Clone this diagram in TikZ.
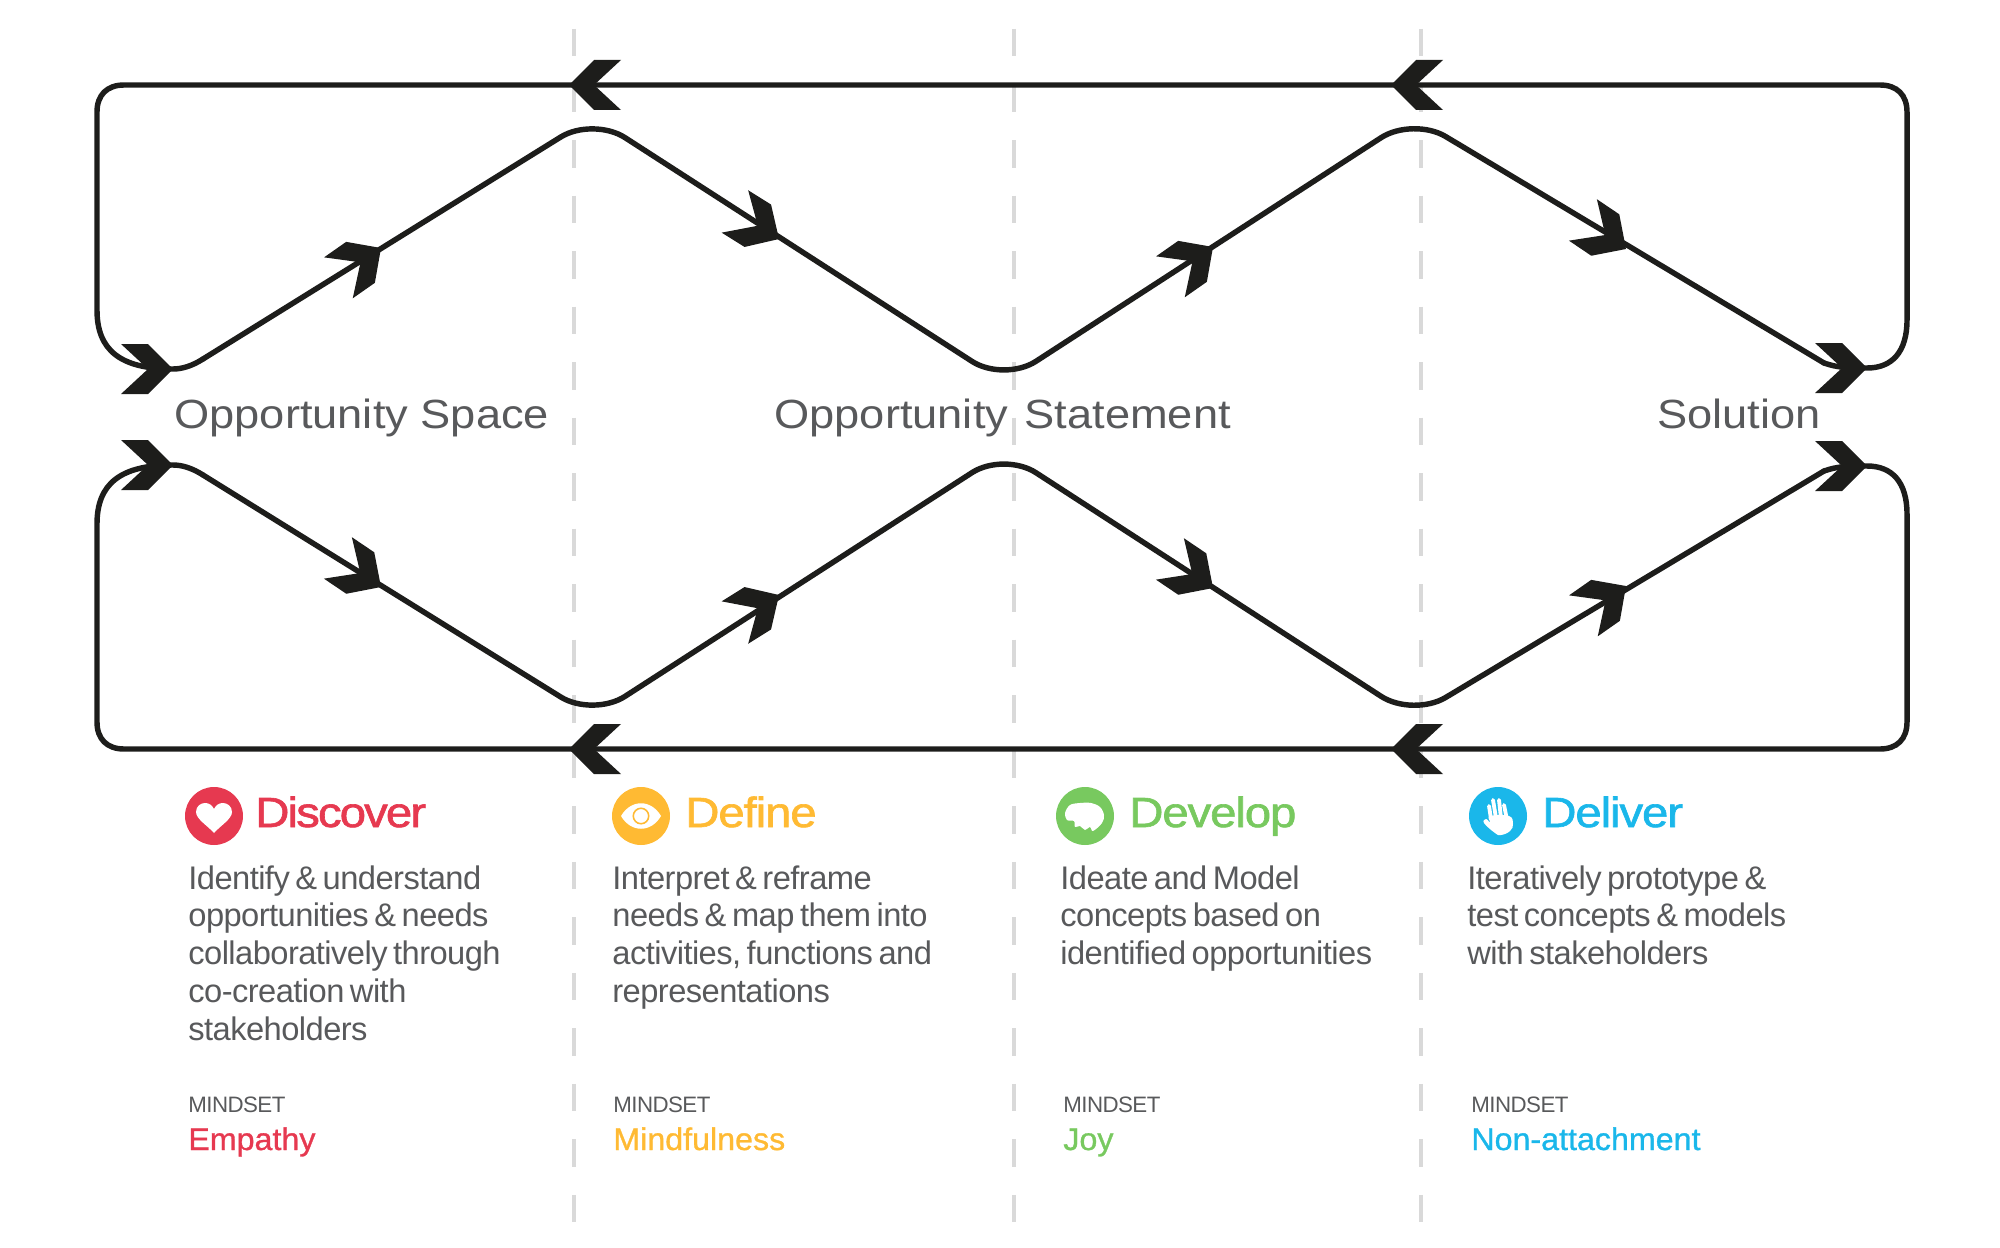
\documentclass[tikz,border=0pt]{standalone}
\usepackage{fontspec}
\setmainfont{Liberation Sans}
\newfontfamily\phasefont[FakeStretch=1.11]{Liberation Sans}
\newfontfamily\bodyfont[LetterSpace=-1.7,WordSpace=0.65]{Liberation Sans}
\newfontfamily\mindsetfont[LetterSpace=-2.5]{Liberation Sans}
\newfontfamily\headfont[LetterSpace=-2.5,FakeStretch=1.12,FakeBold=1.5]{Liberation Sans}
\newfontfamily\tightheadfont[LetterSpace=-4.4,FakeStretch=1.12,FakeBold=1.5]{Liberation Sans}
\newfontfamily\valuefont[FakeStretch=1.03,FakeBold=1]{Liberation Sans}
\definecolor{inkblack}{HTML}{1D1D1B}
\definecolor{dividergray}{HTML}{D9D9D9}
\definecolor{textgray}{HTML}{58595B}
\definecolor{discoverred}{HTML}{E63950}
\definecolor{defineyellow}{HTML}{FFBA33}
\definecolor{developgreen}{HTML}{78C95F}
\definecolor{deliverblue}{HTML}{1AB7EA}
\tikzset{
	flowline/.style={draw=inkblack, line width=3.1pt, line cap=round},
	divider/.style={draw=dividergray, line width=2.7pt, dash pattern=on 15.65pt off 15.95pt},
	chevron/.pic={\fill[inkblack] (0,0) -- (-25,25) -- (-52,25) -- (-25,0) -- (-52,-25) -- (-25,-25) -- cycle;},
	phaselabel/.style={anchor=base west, inner sep=0, text=textgray, font=\phasefont\fontsize{23.2}{26}\selectfont},
	icondisc/.style={shape=circle, minimum size=1.16cm, inner sep=0},
	headlabel/.style={anchor=base west, inner sep=0, font=\headfont\fontsize{24}{28}\selectfont},
	bodylabel/.style={anchor=north west, inner sep=0, align=left, text=textgray, font=\bodyfont\fontsize{18.6}{21.6}\selectfont},
	mindlabel/.style={anchor=base west, inner sep=0, text=textgray, font=\mindsetfont\fontsize{12.7}{15}\selectfont},
	valuelabel/.style={anchor=base west, inner sep=0, font=\valuefont\fontsize{17.8}{20}\selectfont}
}
\begin{document}
\begin{tikzpicture}[x=0.02cm, y=-0.02cm]
	\useasboundingbox (0,0) rectangle (2000,1247);

	\draw[divider] (574,29) coordinate (div_a_top) -- (574,1225) coordinate (div_a_bot);
	\draw[divider] (1014,29) coordinate (div_b_top) -- (1014,1225) coordinate (div_b_bot);
	\draw[divider] (1421,29) coordinate (div_c_top) -- (1421,1225) coordinate (div_c_bot);

	% waypoints of the two waves
	\coordinate (left_up) at (173,369);
	\coordinate (right_up) at (1867,368);
	\coordinate (left_dn) at (173,465);
	\coordinate (right_dn) at (1867,466);
	\coordinate (up_start) at (203,359);
	\coordinate (up_a) at (593,117);
	\coordinate (up_b) at (1004,382);
	\coordinate (up_c) at (1413,117);
	\coordinate (up_end) at (1824,363);
	\coordinate (dn_start) at (203,475);
	\coordinate (dn_a) at (593,717);
	\coordinate (dn_b) at (1004,452);
	\coordinate (dn_c) at (1413,717);
	\coordinate (dn_end) at (1824,471);

	\draw[flowline, rounded corners=0.76cm] (up_start) -- (up_a) -- (up_b) -- (up_c) -- (up_end);
	\draw[flowline, rounded corners=0.76cm] (dn_start) -- (dn_a) -- (dn_b) -- (dn_c) -- (dn_end);
	\draw[flowline] (up_end) .. controls (1838,368) and (1850,368) .. (right_up)
		.. controls (1892,368) and (1907,352) .. (1907,320) -- (1907,112)
		.. controls (1907,95) and (1897,85) .. (1880,85) -- (124,85)
		.. controls (107,85) and (97,95) .. (97,112) -- (97,310)
		.. controls (97,350) and (120,369) .. (left_up)
		.. controls (182,369) and (192,366) .. (up_start);
	\draw[flowline] (dn_end) .. controls (1838,466) and (1850,466) .. (right_dn)
		.. controls (1892,466) and (1907,482) .. (1907,514) -- (1907,722)
		.. controls (1907,739) and (1897,749) .. (1880,749) -- (124,749)
		.. controls (107,749) and (97,739) .. (97,722) -- (97,524)
		.. controls (97,484) and (120,465) .. (left_dn)
		.. controls (182,465) and (192,468) .. (dn_start);

	\pic[rotate=180] at (569,85) {chevron};
	\pic[rotate=180] at (1391,85) {chevron};
	\pic[rotate=180] at (569,749) {chevron};
	\pic[rotate=180] at (1391,749) {chevron};
	\pic at (left_up) {chevron};
	\pic at (right_up) {chevron};
	\pic at (left_dn) {chevron};
	\pic at (right_dn) {chevron};
	\pic[rotate=35] at (381,248) {chevron};
	\pic[rotate=-32] at (779,239) {chevron};
	\pic[rotate=35] at (1213,247) {chevron};
	\pic[rotate=-34] at (1626,249) {chevron};
	\pic[rotate=-34] at (381,587) {chevron};
	\pic[rotate=32] at (779,595) {chevron};
	\pic[rotate=-34] at (1213,588) {chevron};
	\pic[rotate=35] at (1626,586) {chevron};

	\node[phaselabel] (space) at (174,428) {Opportunity Space};
	\node[phaselabel] (statement) at (774,428) {Opportunity\hspace{0.4em}Statement};
	\node[phaselabel] (solution) at (1657,428) {Solution};

	% discover
	\node[icondisc, fill=discoverred] (icon_heart) at (214,816) {};
	\begin{scope}[shift={(icon_heart.center)}]
		\fill[white] (0,17) .. controls (-6,10) and (-18,3) .. (-18,-4) .. controls (-18,-10) and (-13,-13) .. (-9,-13)
			.. controls (-5,-13) and (-2,-11) .. (0,-7) .. controls (2,-11) and (5,-13) .. (9,-13)
			.. controls (13,-13) and (18,-10) .. (18,-4) .. controls (18,3) and (6,10) .. (0,17) -- cycle;
	\end{scope}
	\node[headlabel, text=discoverred, font=\tightheadfont\fontsize{24}{28}\selectfont] (discover) at (255,827) {Discover};
	\node[bodylabel] (discover_text) at (188,865) {Identify \& understand\\opportunities \& needs\\collaboratively through\\co-creation with\\stakeholders};
	\node[mindlabel] (discover_mind) at (188,1112) {MINDSET};
	\node[valuelabel, text=discoverred] (empathy) at (188,1150) {Empathy};

	% define
	\node[icondisc, fill=defineyellow] (icon_eye) at (641,816) {};
	\begin{scope}[shift={(icon_eye.center)}]
		\fill[white] (-20,0) .. controls (-10,-17) and (10,-17) .. (20,0) .. controls (10,17) and (-10,17) .. (-20,0) -- cycle;
		\draw[defineyellow, line width=0.9pt] (0,0) circle[radius=4.4pt];
	\end{scope}
	\node[headlabel, text=defineyellow] (define) at (685,827) {Define};
	\node[bodylabel] (define_text) at (612,865) {Interpret \& reframe\\needs \& map them into\\activities, functions and\\representations};
	\node[mindlabel] (define_mind) at (613,1112) {MINDSET};
	\node[valuelabel, text=defineyellow] (mindfulness) at (613,1150) {Mindfulness};

	% develop
	\node[icondisc, fill=developgreen] (icon_brain) at (1085,816) {};
	\begin{scope}[shift={(icon_brain.center)}]
		\fill[white] plot[smooth cycle, tension=0.55] coordinates {(-20,-3) (-15,-11) (-5,-13) (6,-13) (15,-9) (19,-1) (17,7) (8,15) (5,11) (0,14) (-5,10) (-10,11) (-11,5) (-18,4)};
	\end{scope}
	\node[headlabel, text=developgreen] (develop) at (1129,827) {Develop};
	\node[bodylabel] (develop_text) at (1060,865) {Ideate and Model\\concepts based on\\identified opportunities};
	\node[mindlabel] (develop_mind) at (1063,1112) {MINDSET};
	\node[valuelabel, text=developgreen] (joy) at (1063,1150) {Joy};

	% deliver
	\node[icondisc, fill=deliverblue] (icon_hand) at (1498,816) {};
	\begin{scope}[shift={(icon_hand.center)}]
		\fill[white] plot[smooth cycle, tension=0.7] coordinates {(-8,0) (11,0) (15,8) (12,15) (3,19) (-3,17) (-14,7) (-12,3) (-8,6)};
		\draw[white, line width=2.2pt, line cap=round] (-7,3) -- (-9,-10);
		\draw[white, line width=2.2pt, line cap=round] (-2,2) -- (-5,-16);
		\draw[white, line width=2.2pt, line cap=round] (3,2) -- (1,-16);
		\draw[white, line width=2.2pt, line cap=round] (9,4) -- (6,-11);
	\end{scope}
	\node[headlabel, text=deliverblue] (deliver) at (1542,827) {Deliver};
	\node[bodylabel] (deliver_text) at (1467,865) {Iteratively prototype \&\\test concepts \& models\\with stakeholders};
	\node[mindlabel] (deliver_mind) at (1471,1112) {MINDSET};
	\node[valuelabel, text=deliverblue] (nonattach) at (1471,1150) {Non-attachment};
\end{tikzpicture}
\end{document}
